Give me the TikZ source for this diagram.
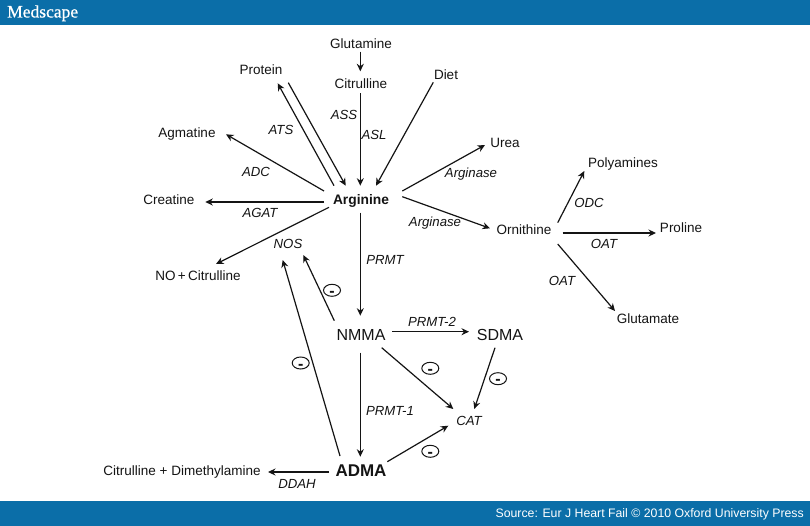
\documentclass[tikz,border=0pt]{standalone}
\usepackage{fontspec}
\setmainfont{Liberation Sans}
\newfontfamily\logofont[FakeBold=0.6]{Liberation Serif}
\usetikzlibrary{arrows.meta,shapes.geometric}
\definecolor{medblue}{HTML}{0B6EA8}
\definecolor{inkc}{HTML}{141414}
\tikzset{
  lbl/.style={inner sep=0pt,text=inkc,text height=.96em,text depth=0pt,font=\fontsize{13.5}{15}\selectfont},
  lblbold/.style={lbl,font=\fontsize{13.8}{15}\selectfont\bfseries},
  big/.style={lbl,font=\fontsize{16}{18}\selectfont},
  bigbold/.style={lbl,font=\fontsize{17}{19}\selectfont\bfseries},
  enz/.style={lbl,font=\fontsize{13.2}{15}\selectfont\itshape},
  inhib/.style={ellipse,draw=inkc,line width=1pt,minimum width=17pt,minimum height=12pt,inner sep=0pt,text=inkc,font=\fontsize{16}{16}\selectfont\bfseries},
  arr/.style={draw=inkc,line width=1.2pt,-{Stealth[length=7.5pt,width=7pt]}},
  band/.style={fill=medblue,draw=none},
}
\newcommand{\offs}[3]{([shift={(#1,#2)}]#3.center)}
\newcommand{\minusmark}{\smash{\raisebox{-6pt}{-}}}
\begin{document}
\begin{tikzpicture}[x=1pt,y=-1pt]
\useasboundingbox (0,0) rectangle (810,526);
\fill[white] (0,0) rectangle (810,526);
\fill[band] (0,0) rectangle (810,25);
\fill[band] (0,501) rectangle (810,526);
\node[inner sep=0pt,text=white,anchor=base west,font=\fontsize{17.5}{19}\selectfont\logofont] (logo) at (7,17.5) {Medscape};
\node[inner sep=0pt,text=white,anchor=base east,font=\fontsize{12.3}{14}\selectfont] (src) at (804,517.5) {Source: Eur J Heart Fail © 2010 Oxford University Press};

\node[lbl] (glut) at (361,44) {Glutamine};
\node[lbl] (citr) at (361,84) {Citrulline};
\node[lbl] (prot) at (261,70) {Protein};
\node[lbl] (diet) at (446,75) {Diet};
\node[lbl] (agm) at (187,133) {Agmatine};
\node[lbl] (urea) at (505,143) {Urea};
\node[lbl] (poly) at (623,163) {Polyamines};
\node[lbl] (crea) at (169,200) {Creatine};
\node[lblbold] (arg) at (361,200) {Arginine};
\node[lbl] (orn) at (524,230) {Ornithine};
\node[lbl] (prol) at (681,228) {Proline};
\node[lbl] (noc) at (198,276) {NO\,+\,Citrulline};
\node[enz] (nos) at (288,244) {NOS};
\node[big] (nmma) at (361,336) {NMMA};
\node[big] (sdma) at (500,336) {SDMA};
\node[lbl] (glu) at (648,319) {Glutamate};
\node[enz] (cat) at (469,421) {CAT};
\node[bigbold] (adma) at (361,471.5) {ADMA};
\node[lbl] (cdm) at (182,471) {Citrulline + Dimethylamine};

\node[enz] (ats) at (281,130) {ATS};
\node[enz] (adc) at (256,172) {ADC};
\node[enz] (ass) at (344,115) {ASS};
\node[enz] (asl) at (374,135) {ASL};
\node[enz] (agat) at (260,213) {AGAT};
\node[enz] (prmt) at (385,260) {PRMT};
\node[enz] (prmtb) at (432,322) {PRMT-2};
\node[enz] (prmta) at (390,411) {PRMT-1};
\node[enz] (ddah) at (297,484) {DDAH};
\node[enz] (odc) at (589,203) {ODC};
\node[enz] (oata) at (604,244) {OAT};
\node[enz] (oatb) at (562,281) {OAT};
\node[enz] (argu) at (471,173) {Arginase};
\node[enz] (argo) at (435,222) {Arginase};

\node[inhib] (ma) at (332,290.3) {\minusmark};
\node[inhib] (mb) at (300.7,363) {\minusmark};
\node[inhib] (mc) at (430.3,368.3) {\minusmark};
\node[inhib] (md) at (498,378.7) {\minusmark};
\node[inhib] (me) at (430.3,451.3) {\minusmark};

\draw[arr] \offs{-.7}{7.7}{glut} -- \offs{-.7}{-12.7}{citr};
\draw[arr] \offs{-.7}{9.3}{citr} -- \offs{-.7}{-14.3}{arg};
\draw[arr] \offs{-27}{-14.3}{arg} -- \offs{16.7}{13.3}{prot};
\draw[arr] \offs{27.3}{12.7}{prot} -- \offs{-15.3}{-14.3}{arg};
\draw[arr] \offs{-37}{-9}{arg} -- \offs{39}{1.3}{agm};
\draw[arr] \offs{-37}{2}{arg} -- \offs{36.3}{2}{crea};
\draw[arr] \offs{-32}{7.3}{arg} -- \offs{18}{-12}{noc};
\draw[arr] \offs{-12.7}{7.3}{diet} -- \offs{15}{-14.3}{arg};
\draw[arr] \offs{41.3}{-9}{arg} -- \offs{-20}{2}{urea};
\draw[arr] \offs{41.3}{-3.3}{arg} -- \offs{-34}{-1.7}{orn};
\draw[arr] \offs{33.7}{-7.3}{orn} -- \offs{-38.7}{8}{poly};
\draw[arr] \offs{38.7}{3}{orn} -- \offs{-25}{5}{prol};
\draw[arr] \offs{33.7}{14}{orn} -- \offs{-33}{-8}{glu};
\draw[arr] \offs{-.7}{12.7}{arg} -- \offs{-.7}{-20.3}{nmma};
\draw[arr] \offs{-26.7}{-15.3}{nmma} -- \offs{15.3}{11}{nos};
\draw[arr] \offs{-21}{-15.5}{adma} -- \offs{-5.3}{16}{nos};
\draw[arr] \offs{31}{-4.3}{nmma} -- \offs{-31}{-4.3}{sdma};
\draw[arr] \offs{-.7}{16.7}{nmma} -- \offs{-.7}{-14.8}{adma};
\draw[arr] \offs{20.7}{11.7}{nmma} -- \offs{-15.7}{-12}{cat};
\draw[arr] \offs{-5}{11.7}{sdma} -- \offs{5.3}{-12}{cat};
\draw[arr] \offs{26.3}{-9.8}{adma} -- \offs{-20.7}{4.7}{cat};
\draw[arr] \offs{-32}{0.5}{adma} -- \offs{86}{1}{cdm};
\end{tikzpicture}
\end{document}
